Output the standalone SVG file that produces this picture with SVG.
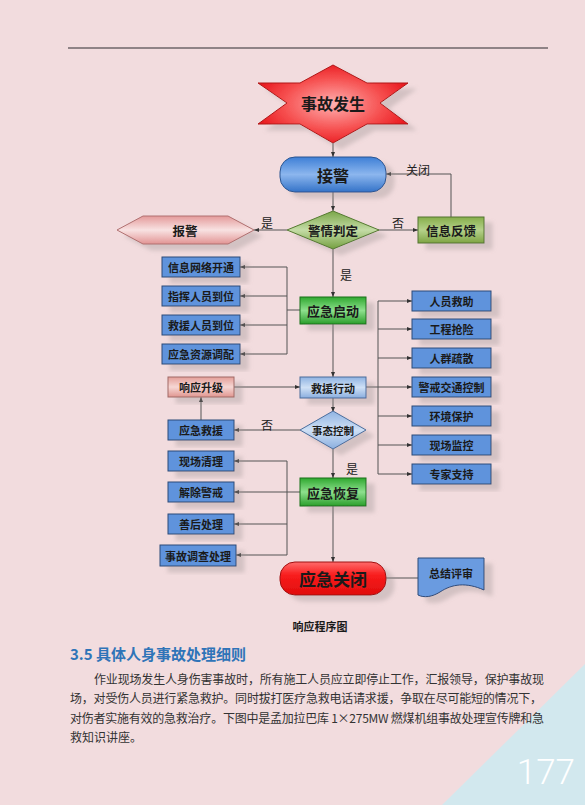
<svg xmlns="http://www.w3.org/2000/svg" width="585" height="805" viewBox="0 0 585 805">
<defs>
<filter id="sh" x="-20%" y="-20%" width="150%" height="160%">
<feOffset in="SourceAlpha" dx="8" dy="6" result="o"/>
<feGaussianBlur in="o" stdDeviation="2" result="b"/>
<feFlood flood-color="#9a9090" flood-opacity="0.35"/>
<feComposite in2="b" operator="in" result="s"/>
<feMerge><feMergeNode in="s"/><feMergeNode in="SourceGraphic"/></feMerge>
</filter>
<radialGradient id="gStar" cx="50%" cy="50%" r="55%"><stop offset="0" stop-color="#ffb0b0"/><stop offset="0.6" stop-color="#f65050"/><stop offset="1" stop-color="#e8161c"/></radialGradient>
<linearGradient id="gBlueR" x1="0" y1="0" x2="0" y2="1"><stop offset="0" stop-color="#3d7fd6"/><stop offset="0.5" stop-color="#8cb6ee"/><stop offset="1" stop-color="#3473c8"/></linearGradient>
<linearGradient id="gGreenD" x1="0" y1="0" x2="0" y2="1"><stop offset="0" stop-color="#7aa648"/><stop offset="0.5" stop-color="#c4dca6"/><stop offset="1" stop-color="#74a040"/></linearGradient>
<linearGradient id="gPink" x1="0" y1="0" x2="0" y2="1"><stop offset="0" stop-color="#e49a9a"/><stop offset="0.5" stop-color="#f8e2e2"/><stop offset="1" stop-color="#e29494"/></linearGradient>
<linearGradient id="gOlive" x1="0" y1="0" x2="0" y2="1"><stop offset="0" stop-color="#86ae4a"/><stop offset="0.5" stop-color="#b5d18a"/><stop offset="1" stop-color="#7ea444"/></linearGradient>
<linearGradient id="gGreen" x1="0" y1="0" x2="0" y2="1"><stop offset="0" stop-color="#2fa82f"/><stop offset="0.5" stop-color="#8ee08e"/><stop offset="1" stop-color="#2a9e2a"/></linearGradient>
<linearGradient id="gLB" x1="0" y1="0" x2="0" y2="1"><stop offset="0" stop-color="#8fb3e2"/><stop offset="0.5" stop-color="#cfe0f5"/><stop offset="1" stop-color="#8aaedf"/></linearGradient>
<linearGradient id="gPinkBox" x1="0" y1="0" x2="0" y2="1"><stop offset="0" stop-color="#e49e98"/><stop offset="0.5" stop-color="#f6d7d4"/><stop offset="1" stop-color="#e09690"/></linearGradient>
<linearGradient id="gRed" x1="0" y1="0" x2="0" y2="1"><stop offset="0" stop-color="#ff6a6a"/><stop offset="0.4" stop-color="#f81c1c"/><stop offset="1" stop-color="#e00c0c"/></linearGradient>
<marker id="ah" viewBox="0 0 10 10" refX="10" refY="5" markerWidth="5" markerHeight="5" orient="auto"><path d="M0,1 L10,5 L0,9 z" fill="#333"/></marker>
<style>
.ln{fill:none;stroke:#555;stroke-width:1}
.ar{fill:none;stroke:#555;stroke-width:1;marker-end:url(#ah)}
.bb{fill:#5f93dc;stroke:#2d4a78;stroke-width:1;filter:url(#sh)}
.t{font-family:"Noto Sans CJK SC","Liberation Sans",sans-serif;font-weight:bold;fill:#1a1a1a;text-anchor:middle;dominant-baseline:central}
.s11{font-size:11px}
.lbl{font-family:"Noto Sans CJK SC","Liberation Sans",sans-serif;font-size:12px;fill:#222;text-anchor:middle;dominant-baseline:central}
.para{font-family:"Noto Sans CJK SC","Liberation Sans",sans-serif;font-size:12px;fill:#333}
</style>
</defs>
<rect width="585" height="805" fill="#f2dcde"/>
<polygon points="585,664 585,805 442,805" fill="#d2e8ee"/>
<line x1="68" y1="48" x2="548" y2="48" stroke="#6e6668" stroke-width="1.5"/>

<g id="connectors">
<path class="ar" d="M333,143 V157"/>
<path class="ar" d="M333,192 V211"/>
<path class="ar" d="M287,230 H254"/>
<path class="ar" d="M378,230 H418"/>
<path class="ar" d="M451,217 V174 H386"/>
<path class="ar" d="M333,249 V297"/>
<path class="ln" d="M300,310 H287 M287,267 V354"/>
<path class="ar" d="M287,267 H240"/>
<path class="ar" d="M287,296 H240"/>
<path class="ar" d="M287,325 H240"/>
<path class="ar" d="M287,354 H240"/>
<path class="ar" d="M333,324 V377"/>
<path class="ar" d="M234,387 H300"/>
<path class="ln" d="M366,387 H378 M378,301 V474"/>
<path class="ar" d="M378,301 H412"/>
<path class="ar" d="M378,329 H412"/>
<path class="ar" d="M378,358 H412"/>
<path class="ar" d="M378,387 H412"/>
<path class="ar" d="M378,416 H412"/>
<path class="ar" d="M378,445 H412"/>
<path class="ar" d="M378,474 H412"/>
<path class="ar" d="M333,398 V412"/>
<path class="ar" d="M300,430 H234"/>
<path class="ar" d="M201,420 V397"/>
<path class="ar" d="M333,449 V478"/>
<path class="ln" d="M300,492 H287 M287,461 V555"/>
<path class="ar" d="M287,461 H234"/>
<path class="ar" d="M287,492 H234"/>
<path class="ar" d="M287,524 H234"/>
<path class="ar" d="M287,555 H236"/>
<path class="ar" d="M333,506 V562"/>
<path class="ln" d="M386,578 H418"/>
<text class="lbl" x="267" y="222">是</text>
<text class="lbl" x="398" y="222">否</text>
<text class="lbl" x="418" y="169">关闭</text>
<text class="lbl" x="346" y="274">是</text>
<text class="lbl" x="267" y="424">否</text>
<text class="lbl" x="352" y="468">是</text>
</g>

<g id="n-start">
<polygon points="333,65 367,83 408,83 380,103 408,124 367,124 333,143 300,124 258,124 287,103 258,83 300,83" fill="url(#gStar)" stroke="#b01818" stroke-width="1" filter="url(#sh)"/>
<text class="t" x="333" y="103" font-size="16">事故发生</text>
</g>
<g id="n-jiejing">
<rect x="280" y="157" width="106" height="35" rx="15" fill="url(#gBlueR)" stroke="#2b5590" filter="url(#sh)"/>
<text class="t" x="333" y="174.5" font-size="16">接警</text>
</g>
<g id="n-panding">
<polygon points="333,211 379,230 333,249 287,230" fill="url(#gGreenD)" stroke="#557a30" filter="url(#sh)"/>
<text class="t" x="333" y="230" font-size="12.5">警情判定</text>
</g>
<g id="n-baojing">
<polygon points="117,230 143,216 228,216 254,230 228,244 143,244" fill="url(#gPink)" stroke="#b07070" filter="url(#sh)"/>
<text class="t" x="185" y="230" font-size="12.5">报警</text>
</g>
<g id="n-fankui">
<rect x="418" y="217" width="66" height="26" fill="url(#gOlive)" stroke="#557530" filter="url(#sh)"/>
<text class="t" x="451" y="230" font-size="12.5">信息反馈</text>
</g>
<g id="n-qidong">
<rect x="300" y="297" width="66" height="27" fill="url(#gGreen)" stroke="#1d701d" filter="url(#sh)"/>
<text class="t" x="333" y="310.5" font-size="13">应急启动</text>
</g>
<g id="n-l1"><rect class="bb" x="162" y="257" width="78" height="20"/><text class="t s11" x="201" y="267">信息网络开通</text></g>
<g id="n-l2"><rect class="bb" x="162" y="286" width="78" height="20"/><text class="t s11" x="201" y="296">指挥人员到位</text></g>
<g id="n-l3"><rect class="bb" x="162" y="315" width="78" height="20"/><text class="t s11" x="201" y="325">救援人员到位</text></g>
<g id="n-l4"><rect class="bb" x="162" y="344" width="78" height="20"/><text class="t s11" x="201" y="354">应急资源调配</text></g>
<g id="n-xingdong">
<rect x="300" y="377" width="66" height="21" fill="url(#gLB)" stroke="#4a6d9c" filter="url(#sh)"/>
<text class="t s11" x="333" y="387.5">救援行动</text>
</g>
<g id="n-shengji">
<rect x="168" y="377" width="66" height="20" fill="url(#gPinkBox)" stroke="#a06a66" filter="url(#sh)"/>
<text class="t s11" x="201" y="387">响应升级</text>
</g>
<g id="n-kongzhi">
<polygon points="333,411 366,430 333,449 300,430" fill="url(#gLB)" stroke="#4a6d9c" filter="url(#sh)"/>
<text class="t" x="333" y="430" font-size="10.5">事态控制</text>
</g>
<g id="n-jiuyuan"><rect class="bb" x="168" y="420" width="66" height="20"/><text class="t s11" x="201" y="430">应急救援</text></g>
<g id="n-r1"><rect class="bb" x="412" y="291" width="79" height="20"/><text class="t s11" x="451.5" y="301">人员救助</text></g>
<g id="n-r2"><rect class="bb" x="412" y="319" width="79" height="20"/><text class="t s11" x="451.5" y="329">工程抢险</text></g>
<g id="n-r3"><rect class="bb" x="412" y="348" width="79" height="20"/><text class="t s11" x="451.5" y="358">人群疏散</text></g>
<g id="n-r4"><rect class="bb" x="412" y="377" width="79" height="20"/><text class="t s11" x="451.5" y="387">警戒交通控制</text></g>
<g id="n-r5"><rect class="bb" x="412" y="406" width="79" height="20"/><text class="t s11" x="451.5" y="416">环境保护</text></g>
<g id="n-r6"><rect class="bb" x="412" y="435" width="79" height="20"/><text class="t s11" x="451.5" y="445">现场监控</text></g>
<g id="n-r7"><rect class="bb" x="412" y="464" width="79" height="20"/><text class="t s11" x="451.5" y="474">专家支持</text></g>
<g id="n-huifu">
<rect x="300" y="478" width="66" height="28" fill="url(#gGreen)" stroke="#1d701d" filter="url(#sh)"/>
<text class="t" x="333" y="492" font-size="13">应急恢复</text>
</g>
<g id="n-b1"><rect class="bb" x="168" y="451" width="66" height="20"/><text class="t s11" x="201" y="461">现场清理</text></g>
<g id="n-b2"><rect class="bb" x="168" y="482" width="66" height="20"/><text class="t s11" x="201" y="492">解除警戒</text></g>
<g id="n-b3"><rect class="bb" x="168" y="514" width="66" height="20"/><text class="t s11" x="201" y="524">善后处理</text></g>
<g id="n-b4"><rect class="bb" x="160" y="545" width="76" height="21"/><text class="t s11" x="198" y="555.5">事故调查处理</text></g>
<g id="n-guanbi">
<rect x="280" y="562" width="106" height="33" rx="15" fill="url(#gRed)" stroke="#a01010" filter="url(#sh)"/>
<text class="t" x="333" y="578.5" font-size="17">应急关闭</text>
</g>
<g id="n-pingshen">
<path d="M418,558 H484 V590 C466,582 452,584 440,592 C432,597 424,598 418,595 Z" fill="#6a9be0" stroke="#2d4a78" filter="url(#sh)"/>
<text class="t s11" x="451" y="573">总结评审</text>
</g>

<text x="320" y="626" font-family="'Noto Sans CJK SC','Liberation Sans',sans-serif" font-size="11" font-weight="bold" fill="#1a1a1a" text-anchor="middle" dominant-baseline="central">响应程序图</text>
<text x="70" y="660" font-family="'Noto Sans CJK SC','Liberation Sans',sans-serif" font-size="15" font-weight="bold" fill="#2f74b8">3.5 具体人身事故处理细则</text>
<text class="para" x="94" y="684" textLength="450" lengthAdjust="spacing">作业现场发生人身伤害事故时，所有施工人员应立即停止工作，汇报领导，保护事故现</text>
<text class="para" x="70" y="703" textLength="472" lengthAdjust="spacing">场，对受伤人员进行紧急救护。同时拔打医疗急救电话请求援，争取在尽可能短的情况下，</text>
<text class="para" x="70" y="723" textLength="474" lengthAdjust="spacing">对伤者实施有效的急救治疗。下图中是孟加拉巴库 1×275MW 燃煤机组事故处理宣传牌和急</text>
<text class="para" x="70" y="742">救知识讲座。</text>
<text x="575" y="784" font-family="Roboto,'Liberation Sans',sans-serif" font-size="35" font-weight="300" fill="#ffffff" text-anchor="end">177</text>
</svg>
